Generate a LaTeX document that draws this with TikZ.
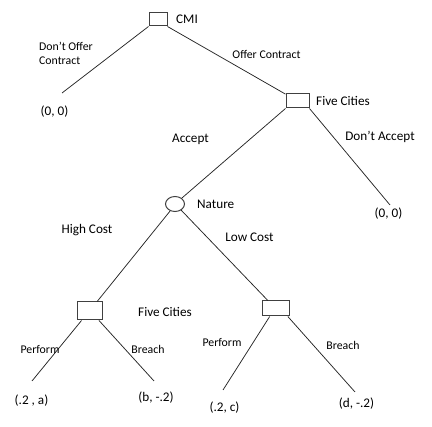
\documentclass[tikz,border=0pt]{standalone}
\usepackage{fontspec}
\setmainfont{Carlito}
\usetikzlibrary{shapes.geometric}
\begin{document}
\begin{tikzpicture}[x=1pt, y=-1pt,
    box/.style={draw=black!75, line width=1pt, minimum width=#1, inner sep=0pt},
    branch/.style={draw=black!85, line width=0.75pt},
    big/.style={inner sep=0pt, font=\fontsize{13.2}{15}\selectfont},
    small/.style={inner sep=0pt, font=\fontsize{11.8}{14}\selectfont}]
    \useasboundingbox (0,0) rectangle (432,427);

    % decision nodes
    \node[box=18pt, minimum height=13pt] (cmi) at (158,19.5) {};
    \node[big, anchor=west] (cmil) at (176,19.5) {CMI};
    \node[box=23pt, minimum height=14pt] (fc) at (297.5,101) {};
    \node[big, anchor=west] (fcl) at (316,101) {Five Cities};
    \node[draw=black!75, line width=1pt, ellipse, minimum width=19pt, minimum height=15pt, inner sep=0pt] (nat) at (175,204) {};
    \node[big, anchor=west] (natl) at (197,204) {Nature};
    \node[box=25pt, minimum height=18pt] (hb) at (89.5,311) {};
    \node[box=27pt, minimum height=15pt] (lb) at (275.5,308.5) {};
    \node[big, anchor=west] (fcl2) at (138,312) {Five Cities};

    % free ends
    \coordinate (e1) at (62,93);
    \coordinate (e2) at (390,205);
    \coordinate (e3) at (32,381);
    \coordinate (e4) at (154,381);
    \coordinate (e5) at (223,390);
    \coordinate (e6) at (355,392);

    % branches
    \draw[branch] (cmi.south west) -- (e1);
    \draw[branch] (cmi.south east) -- (fc);
    \draw[branch] (fc.south west) -- (nat);
    \draw[branch] (fc.south east) -- (e2);
    \draw[branch] (nat.-125) -- (hb);
    \draw[branch] (nat.-45) -- (lb);
    \draw[branch] (hb.-130) -- (e3);
    \draw[branch] (hb.-45) -- (e4);
    \draw[branch] (lb.-126) -- (e5);
    \draw[branch] (lb.-33) -- (e6);

    % action labels
    \node[small, align=left] (dont) at (66,53) {Don't Offer\\Contract};
    \node[small] (offer) at (266.5,54) {Offer Contract};
    \node[big] (acc) at (190.5,139) {Accept};
    \node[big] (dacc) at (380,137) {Don't Accept};
    \node[big] (high) at (87,230) {High Cost};
    \node[big] (low) at (249.5,237) {Low Cost};
    \node[small] (perf1) at (40,349) {Perform};
    \node[small] (br1) at (148,349) {Breach};
    \node[small] (perf2) at (222,342) {Perform};
    \node[small] (br2) at (343,345) {Breach};

    % payoffs
    \node[big] (p1) at (54.5,112) {(0, 0)};
    \node[big] (p2) at (388.5,214) {(0, 0)};
    \node[big] (p3) at (31.5,401) {(.2 , a)};
    \node[big] (p4) at (156,398) {(b, -.2)};
    \node[big] (p5) at (224.5,408) {(.2, c)};
    \node[big] (p6) at (356.5,404) {(d, -.2)};
  \end{tikzpicture}
\end{document}
